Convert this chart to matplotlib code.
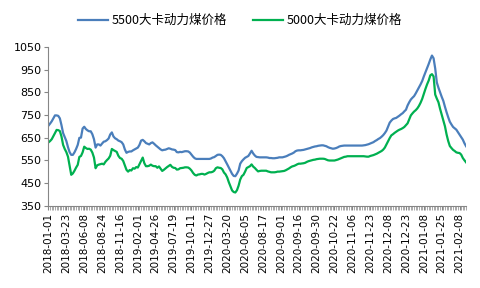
import matplotlib.pyplot as plt

plt.rcParams['font.family'] = ['DejaVu Sans', 'Noto Sans CJK SC']

tick_labels = ['2018-01-01', '2018-03-23', '2018-06-08', '2018-08-24', '2018-11-16',
               '2019-02-01', '2019-04-26', '2019-07-19', '2019-10-11', '2019-12-27',
               '2020-03-20', '2020-06-05', '2020-08-17', '2020-09-01', '2020-09-16',
               '2020-09-30', '2020-10-22', '2020-11-06', '2020-11-23', '2020-12-08',
               '2020-12-23', '2021-01-08', '2021-01-25', '2021-02-08']

# 5500大卡
price_5500 = [
    703, 712, 722, 735, 748, 748, 746, 735, 705, 670,
    652, 635, 608, 586, 574, 574, 585, 600, 618, 649,
    650, 690, 698, 688, 682, 678, 678, 665, 643, 606,
    620, 620, 615, 624, 632, 634, 639, 646, 664, 673,
    655, 647, 643, 637, 634, 630, 620, 598, 583, 587,
    589, 589, 594, 598, 602, 606, 618, 637, 640, 634,
    626, 623, 620, 626, 629, 623, 616, 610, 604, 598,
    594, 596, 597, 600, 603, 601, 598, 597, 595, 586,
    585, 587, 586, 588, 590, 590, 589, 584, 575, 566,
    559, 556, 556, 556, 556, 556, 556, 556, 556, 556,
    558, 562, 564, 569, 574, 575, 574, 568, 559, 546,
    532, 518, 503, 490, 481, 480, 491, 505, 535, 546,
    554, 561, 565, 569, 580, 592, 580, 571, 565, 564,
    563, 563, 563, 563, 563, 562, 560, 560, 559, 559,
    560, 561, 563, 563, 563, 565, 567, 570, 574, 577,
    580, 584, 590, 593, 594, 594, 595, 596, 598, 600,
    602, 604, 607, 609, 611, 612, 614, 615, 616, 616,
    614, 612, 608, 605, 603, 601, 602, 604, 607, 611,
    613, 614, 615, 615, 615, 615, 615, 615, 615, 615,
    615, 615, 615, 615, 616, 617, 619, 621, 624, 627,
    630, 635, 639, 644, 648, 654, 661, 670, 681, 699,
    716, 725, 732, 735, 737, 742, 747, 753, 758, 766,
    773, 792, 806, 818, 826, 833, 845, 858, 871, 885,
    900, 920, 938, 956, 975, 995, 1012, 1000, 955, 893,
    870, 850, 830, 812, 786, 762, 740, 720, 708, 697,
    691, 685, 674, 663, 652, 641, 625, 612]

# 5000大卡
price_5000 = [
    629, 635, 643, 656, 670, 684, 683, 679, 655, 618,
    600, 586, 566, 525, 486, 492, 504, 518, 530, 565,
    569, 585, 610, 604, 600, 601, 597, 584, 562, 515,
    528, 531, 533, 535, 532, 543, 551, 558, 570, 600,
    595, 591, 587, 570, 560, 557, 547, 528, 508, 500,
    507, 505, 515, 513, 520, 518, 533, 548, 562, 537,
    524, 524, 526, 531, 526, 524, 524, 517, 523, 513,
    503, 508, 514, 520, 525, 530, 521, 517, 516, 509,
    510, 515, 516, 517, 519, 519, 518, 513, 505, 494,
    486, 483, 487, 488, 490, 490, 487, 490, 494, 497,
    497, 499, 504, 515, 519, 517, 516, 510, 496, 488,
    474, 453, 435, 417, 410, 408, 418, 438, 465, 480,
    486, 500, 516, 520, 524, 532, 522, 516, 508, 501,
    503, 504, 504, 504, 504, 501, 499, 497, 497, 497,
    498, 500, 500, 501, 502, 503, 506, 510, 514, 519,
    523, 525, 528, 532, 535, 535, 536, 537, 539, 543,
    546, 548, 550, 552, 553, 555, 556, 557, 557, 557,
    556, 553, 550, 549, 549, 549, 549, 551, 553, 556,
    559, 562, 565, 566, 568, 568, 568, 568, 568, 568,
    568, 568, 568, 568, 568, 567, 566, 566, 569, 571,
    573, 576, 579, 583, 587, 591, 597, 606, 620, 635,
    648, 660, 665, 671, 676, 681, 685, 688, 692, 697,
    705, 713, 730, 748, 757, 765, 771, 779, 790, 804,
    821, 843, 865, 885, 902, 925, 930, 920, 840, 822,
    806, 777, 751, 726, 700, 664, 635, 613, 604, 596,
    591, 585, 583, 582, 575, 560, 550, 541]

x = list(range(len(price_5500)))

fig = plt.figure(figsize=(4.8, 2.88), dpi=100)
ax = fig.add_axes([0.101, 0.286, 0.870, 0.551])

ax.plot(x, price_5500, color='#4a7ebb', linewidth=1.6, label='5500大卡动力煤价格')
ax.plot(x, price_5000, color='#00b050', linewidth=1.6, label='5000大卡动力煤价格')

ax.set_ylim(350, 1050)
ax.set_yticks(range(350, 1051, 100))
ax.set_xlim(0, len(x) - 1)
ax.set_xticks(range(0, 11 * len(tick_labels), 11))
ax.set_xticklabels(tick_labels, rotation=90)
ax.set_xticks(x, minor=True)

for side in ['top', 'right']:
    ax.spines[side].set_visible(False)
for side in ['left', 'bottom']:
    ax.spines[side].set_color('#868686')
    ax.spines[side].set_linewidth(0.8)

ax.tick_params(axis='y', length=3, color='#868686', labelsize=8, pad=2)
ax.tick_params(axis='x', which='major', length=3, color='#868686', labelsize=7.5, pad=2)
ax.tick_params(axis='x', which='minor', length=3, color='#868686', width=0.5)

leg = fig.legend(loc='upper center', bbox_to_anchor=(0.5, 0.99), ncol=2, frameon=False,
                 prop={'family': ['Noto Sans CJK SC', 'DejaVu Sans'], 'size': 9},
                 handlelength=2.4, columnspacing=2.0, handletextpad=0.3)

fig.savefig('out.png', dpi=100)
